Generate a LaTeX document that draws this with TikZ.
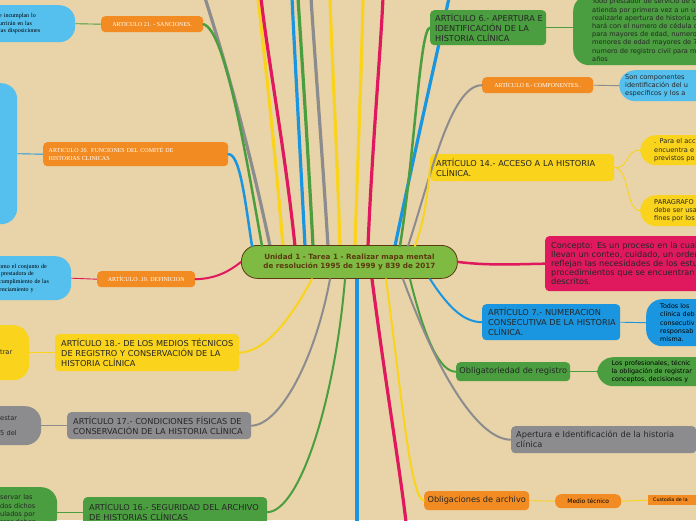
\documentclass[tikz,border=0pt]{standalone}
\usepackage{fontspec}
\setmainfont{DejaVu Sans}
\newfontfamily\serifo{Liberation Serif}
\definecolor{bgc}{HTML}{E8D4A8}
\definecolor{cor}{HTML}{F28C22}
\definecolor{cbl}{HTML}{55BFEE}
\definecolor{cbd}{HTML}{1A96E0}
\definecolor{cgr}{HTML}{4A9E3F}
\definecolor{cye}{HTML}{F9D31C}
\definecolor{cgy}{HTML}{8C8C8E}
\definecolor{cpk}{HTML}{E0185E}
\definecolor{cctr}{HTML}{7FBA42}
\definecolor{cbrn}{HTML}{5A3A10}
\begin{document}
\begin{tikzpicture}[x=1pt,y=-1pt,
  box/.style={rounded corners=4pt,inner sep=0pt,anchor=north west,align=left},
  bub/.style={rounded corners=16pt,inner sep=0pt,anchor=north west,align=left},
  otxt/.style={font=\serifo\fontsize{6}{8}\selectfont,text=white},
  big/.style={font=\fontsize{8.2}{10}\selectfont,text=black!85},
  sm/.style={font=\fontsize{6.6}{8.2}\selectfont,text=black!85},
  br/.style={line width=3.2pt,line cap=round},
  tw/.style={line width=0.9pt}]
\fill[bgc] (0,0) rectangle (696,520);
\useasboundingbox (0,0) rectangle (696,520);
% top edge anchors
\foreach \n/\x in {ta/205,tb/258,tc/261,td/292,te/298,tf/311,tg/330,th/363,ti/383,tj/449}{\coordinate (\n) at (\x,-2);}
\coordinate (ba) at (357,522); \coordinate (bb) at (406,522);
% branches
\draw[br,cgy] (270,246) .. controls (250,150) and (225,60) .. (ta);
\draw[br,cye] (283,246) .. controls (275,150) and (265,60) .. (tb);
\draw[br,cpk] (295,246) .. controls (285,150) and (268,60) .. (tc);
\draw[br,cbd] (305,246) .. controls (300,150) and (295,60) .. (td);
\draw[br,cgr] (313,246) .. controls (308,150) and (302,60) .. (te);
\draw[br,cgy] (328,246) .. controls (322,150) and (315,60) .. (tf);
\draw[br,cye] (340,246) .. controls (337,150) and (332,60) .. (tg);
\draw[br,cye] (355,246) .. controls (358,150) and (362,60) .. (th);
\draw[br,cpk] (368,246) .. controls (372,150) and (380,60) .. (ti);
\draw[br,cbd] (395,246) .. controls (415,150) and (440,40) .. (tj);
\draw[br,cbd] (357,279) -- (ba);
\draw[br,cpk] (372,279) .. controls (385,380) and (400,470) .. (bb);
% nodes
\node[box,fill=cctr,draw=cbrn,line width=0.8pt,rounded corners=16pt,minimum width=216pt,minimum height=33pt,align=center,font=\bfseries\fontsize{7.2}{9}\selectfont,text=cbrn] (ctr) at (241,245) {Unidad 1 - Tarea 1 - Realizar mapa mental\\de resolución 1995 de 1999 y 839 de 2017};
% left
\node[box,fill=cor,minimum width=102pt,minimum height=16pt,otxt,align=center] (a21) at (101,16) {ARTICULO 21. - SANCIONES.};
\node[bub,fill=cbl,minimum width=95pt,minimum height=37pt,text width=95pt,font=\serifo\fontsize{6}{7.5}\selectfont] (l21) at (-20,5) {\hspace*{19pt}e incumplan lo\\\hspace*{19pt}urrirán en las\\\hspace*{19pt}las disposiciones};
\node[box,fill=cor,minimum width=185pt,minimum height=24pt,otxt,text width=178pt] (a20) at (43,142) {\hspace*{2pt}ARTICULO 20. FUNCIONES DEL COMITÉ DE\\\hspace*{2pt}HISTORIAS CLINICAS};
\node[bub,fill=cbl,minimum width=67pt,minimum height=141pt] (l20) at (-50,83) {};
\node[box,fill=cor,minimum width=98pt,minimum height=16pt,otxt,align=center] (a19) at (97,271) {ARTÍCULO .19. DEFINICION};
\node[bub,fill=cbl,minimum width=91pt,minimum height=44pt,text width=91pt,font=\serifo\fontsize{6}{7.6}\selectfont] (l19) at (-20,256) {\hspace*{19pt}omo el conjunto de\\\hspace*{19pt} prestadora de\\\hspace*{19pt}cumplimiento de las\\\hspace*{19pt}enciamiento y};
\node[box,fill=cye,minimum width=184pt,minimum height=37pt,big,text width=180pt] (a18) at (55,334) {\hspace*{4pt}ARTÍCULO 18.- DE LOS MEDIOS TÉCNICOS\\\hspace*{4pt}DE REGISTRO Y CONSERVACIÓN DE LA\\\hspace*{4pt}HISTORIA CLÍNICA};
\node[bub,fill=cye,minimum width=49pt,minimum height=55pt,sm,text width=49pt] (l18) at (-20,325) {\hspace*{20pt}trar};
\node[box,fill=cgy,minimum width=184pt,minimum height=27pt,big,text width=180pt] (a17) at (67,412) {\hspace*{4pt}ARTÍCULO 17.- CONDICIONES FÍSICAS DE\\\hspace*{4pt}CONSERVACIÓN DE LA HISTORIA CLÍNICA};
\node[bub,fill=cgy,minimum width=61pt,minimum height=39pt,sm,text width=61pt] (l17) at (-20,406) {\hspace*{20pt}estar\\[6pt]\hspace*{20pt}5 del};
\node[box,fill=cgr,minimum width=184pt,minimum height=30pt,big,text width=180pt] (a16) at (83,497) {\hspace*{4pt}ARTÍCULO 16.- SEGURIDAD DEL ARCHIVO\\\hspace*{4pt}DE HISTORIAS CLÍNICAS};
\node[bub,fill=cgr,minimum width=77pt,minimum height=45pt,sm,text width=77pt] (l16) at (-20,487) {\hspace*{20pt}servar las\\\hspace*{20pt}dos dichos\\\hspace*{20pt}ulados por\\\hspace*{20pt}rcar deben};
% right
\node[box,fill=cgr,minimum width=116pt,minimum height=35pt,big,text width=114pt] (a6) at (430,10) {\hspace*{4pt}ARTÍCULO 6.- APERTURA E\\\hspace*{4pt}IDENTIFICACIÓN DE LA\\\hspace*{4pt}HISTORIA CLÍNICA};
\node[bub,fill=cgr,minimum width=150pt,minimum height=70pt,sm,text width=140pt] (r6) at (573,-5) {\hspace*{14pt}Todo prestador de servicio de s\\\hspace*{14pt}atienda por primera vez a un u\\\hspace*{14pt}realizarle apertura de historia c\\\hspace*{14pt}hará con el numero de cédula d\\\hspace*{14pt}para mayores de edad, numero\\\hspace*{14pt}menores de edad mayores de 7\\\hspace*{14pt}numero de registro civil para m\\\hspace*{14pt}años};
\node[box,fill=cor,minimum width=111pt,minimum height=16pt,otxt,align=center] (a8) at (482,77) {ARTÍCULO 8.- COMPONENTES..};
\node[bub,fill=cbl,minimum width=100pt,minimum height=31pt,sm,text width=100pt] (r8) at (619,70) {\hspace*{6pt}Son componentes\\\hspace*{6pt}identificación del u\\\hspace*{6pt}específicos y los a};
\node[box,fill=cye,minimum width=184pt,minimum height=27pt,big,text width=180pt] (a14) at (430,154) {\hspace*{4pt}ARTÍCULO 14.- ACCESO A LA HISTORIA\\\hspace*{4pt}CLÍNICA.};
\node[bub,fill=cye,minimum width=90pt,minimum height=30pt,sm,text width=90pt] (r14a) at (640,135) {\hspace*{14pt}. Para el acc\\\hspace*{14pt}encuentra e\\\hspace*{14pt}previstos po};
\node[bub,fill=cye,minimum width=90pt,minimum height=31pt,sm,text width=90pt] (r14b) at (640,195) {\hspace*{14pt}PARAGRAFO\\\hspace*{14pt}debe ser usa\\\hspace*{14pt}fines por los};
\node[box,fill=cpk,minimum width=180pt,minimum height=55pt,font=\fontsize{8.2}{9}\selectfont,text=black!85,text width=178pt] (con) at (545,236) {\hspace*{5pt}Concepto: Es un proceso en la cual s\\\hspace*{5pt}llevan un conteo, cuidado, un orden\\\hspace*{5pt}reflejan las necesidades de los estuc\\\hspace*{5pt}procedimientos que se encuentran h\\\hspace*{5pt}descritos.};
\node[box,fill=cbd,minimum width=138pt,minimum height=36pt,big,text width=136pt] (a7) at (482,304) {\hspace*{5pt}ARTÍCULO 7.- NUMERACION\\\hspace*{5pt}CONSECUTIVA DE LA HISTORIA\\\hspace*{5pt}CLÍNICA.};
\node[bub,fill=cbd,minimum width=80pt,minimum height=47pt,font=\fontsize{6.4}{8.1}\selectfont,text width=80pt] (r7) at (646,299) {\hspace*{14pt}Todos los\\\hspace*{14pt}clínica deb\\\hspace*{14pt}consecutiv\\\hspace*{14pt}responsab\\\hspace*{14pt}misma.};
\node[box,fill=cgr,minimum width=114pt,minimum height=19pt,big,align=center] (obr) at (456,362) {Obligatoriedad de registro};
\node[bub,fill=cgr,minimum width=130pt,minimum height=29pt,font=\fontsize{6.4}{8.1}\selectfont,text width=125pt] (rob) at (597,357) {\hspace*{12pt}Los profesionales, técnic\\\hspace*{12pt}la obligación de registrar\\\hspace*{12pt}conceptos, decisiones y};
\node[box,fill=cgy,minimum width=185pt,minimum height=27pt,big,text width=185pt] (ap) at (511,426) {\hspace*{5pt}Apertura e Identificación de la historia\\\hspace*{5pt}clínica};
\node[box,fill=cor,minimum width=105pt,minimum height=19pt,big,align=center] (oa) at (424,491) {Obligaciones de archivo};
\node[box,fill=cor,rounded corners=6pt,minimum width=66pt,minimum height=14pt,font=\fontsize{6}{7}\selectfont,align=center] (mt) at (555,494) {Medio técnico};
\node[box,fill=cor,rounded corners=0pt,minimum width=72pt,minimum height=10pt,font=\fontsize{4.8}{6}\selectfont,text width=70pt] (cu) at (648,495) {\hspace*{4pt}Custodia de la};
% main branches to named nodes
\draw[br,cgr,line width=2.5pt] (262,246) .. controls (245,150) and (225,30) .. (a21.east);
\draw[br,cbd,line width=2.5pt] (252,246) .. controls (245,200) and (240,154) .. (a20.east);
\draw[br,cpk,line width=2pt] (ctr.west) .. controls (225,275) and (210,279) .. (a19.east);
\draw[br,cye,line width=2pt] (312,279) .. controls (290,320) and (265,352) .. (a18.east);
\draw[br,cgy,line width=2pt] (330,279) .. controls (315,360) and (280,425) .. (a17.east);
\draw[br,cgr,line width=2pt] (345,279) .. controls (335,400) and (300,511) .. (a16.east);
\draw[br,cgr,line width=2.5pt] (400,246) .. controls (415,150) and (420,28) .. (a6.west);
\draw[br,cgy,line width=2pt] (408,246) .. controls (430,180) and (450,85) .. (a8.west);
\draw[br,cye,line width=2pt] (415,246) .. controls (425,220) and (428,190) .. (a14.west);
\draw[br,cpk,line width=2.5pt] (ctr.east) .. controls (490,266) and (520,264) .. (con.west);
\draw[br,cbd,line width=2pt] (430,279) .. controls (450,310) and (465,322) .. (a7.west);
\draw[br,cgr,line width=2pt] (410,279) .. controls (425,340) and (440,372) .. (obr.west);
\draw[br,cgy,line width=2pt] (403,279) .. controls (440,380) and (480,440) .. (ap.west);
\draw[br,cye,line width=2pt] (386,279) .. controls (400,380) and (410,500) .. (oa.west);
% child connectors
\draw[tw,cgr] (a21.west) -- (l21.east);
\draw[tw,cbd] (a20.west) -- (l20.east);
\draw[tw,cpk] (a19.west) -- (l19.east);
\draw[tw,cye] (a18.west) -- (l18.east);
\draw[tw,cgy] (a17.west) -- (l17.east);
\draw[tw,cgr] (a16.west) -- (a16.west-|l16.east);
\draw[tw,cgr] (a6.east) -- (a6.east-|r6.west);
\draw[tw,cgy] (a8.east) -- (r8.west);
\draw[tw,cye] (a14.east) .. controls (630,168) and (625,150) .. (r14a.west);
\draw[tw,cye] (a14.east) .. controls (630,168) and (625,210) .. (r14b.west);
\draw[tw,cbd] (a7.east) -- (r7.west);
\draw[tw,cgr] (obr.east) -- (rob.west);
\draw[tw,cye] (oa.east) -- (mt.west);
\draw[tw,cye] (mt.east) .. controls (635,501) and (635,500) .. (cu.west);
\end{tikzpicture}
\end{document}
